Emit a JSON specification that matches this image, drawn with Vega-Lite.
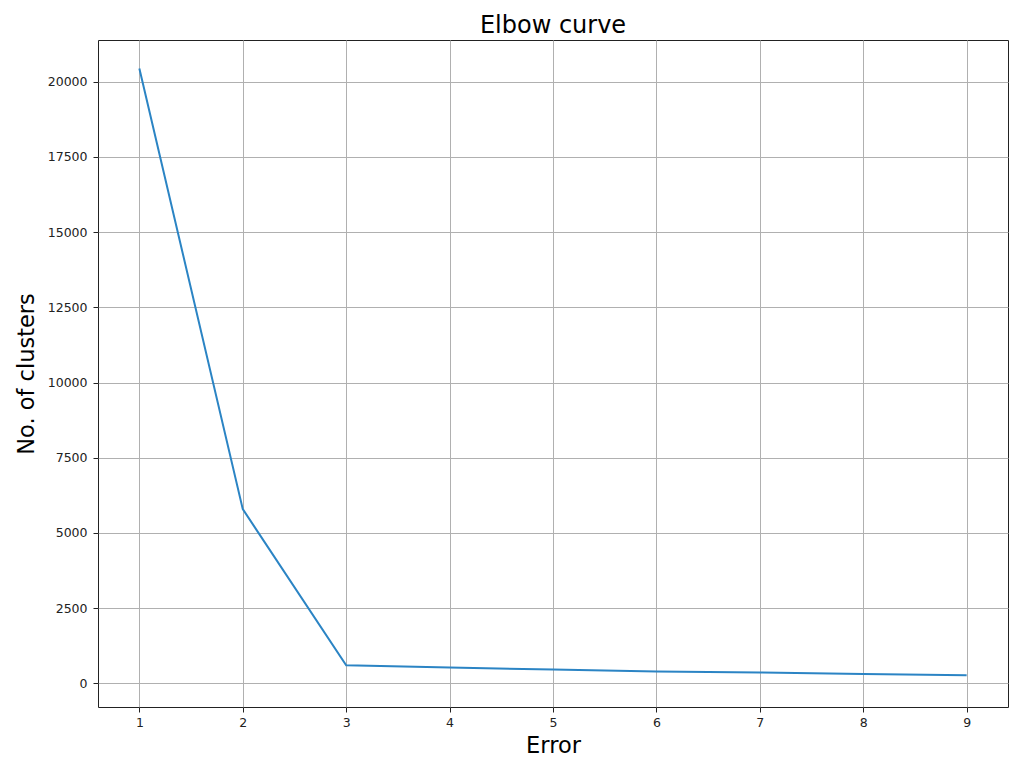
{
  "$schema": "https://vega.github.io/schema/vega-lite/v6.json",
  "autosize": "none",
  "width": 910,
  "height": 667,
  "padding": {"left": 98, "top": 40, "right": 16, "bottom": 61},
  "background": "white",
  "title": {"text": "Elbow curve", "fontSize": 24, "font": "DejaVu Sans", "fontWeight": "normal", "color": "#000", "anchor": "middle", "offset": 2},
  "config": {
    "view": {"stroke": "#222", "strokeWidth": 1},
    "axis": {
      "labelFont": "DejaVu Sans", "labelFontSize": 12.5, "labelColor": "#222",
      "titleFont": "DejaVu Sans", "titleFontWeight": "normal", "titleColor": "#000", "titleFontSize": 22.5,
      "gridColor": "#b0b0b0", "gridWidth": 1, "gridOpacity": 1,
      "tickColor": "#222", "tickSize": 5, "domain": false
    }
  },
  "data": {"values": [
    {"k": 1, "err": 20440},
    {"k": 2, "err": 5790},
    {"k": 3, "err": 600},
    {"k": 4, "err": 522},
    {"k": 5, "err": 455},
    {"k": 6, "err": 390},
    {"k": 7, "err": 356},
    {"k": 8, "err": 310},
    {"k": 9, "err": 266}
  ]},
  "mark": {"type": "line", "color": "#2b84c4", "strokeWidth": 2, "clip": true},
  "encoding": {
    "x": {"field": "k", "type": "quantitative", "title": "Error",
      "scale": {"domain": [0.6, 9.4], "nice": false, "zero": false},
      "axis": {"values": [1,2,3,4,5,6,7,8,9], "format": "d", "labelPadding": 4, "titlePadding": 6}},
    "y": {"field": "err", "type": "quantitative", "title": "No. of clusters",
      "scale": {"domain": [-790, 21390], "nice": false, "zero": false},
      "axis": {"values": [0,2500,5000,7500,10000,12500,15000,17500,20000], "format": "d", "labelPadding": 6, "titlePadding": 9}}
  }
}
